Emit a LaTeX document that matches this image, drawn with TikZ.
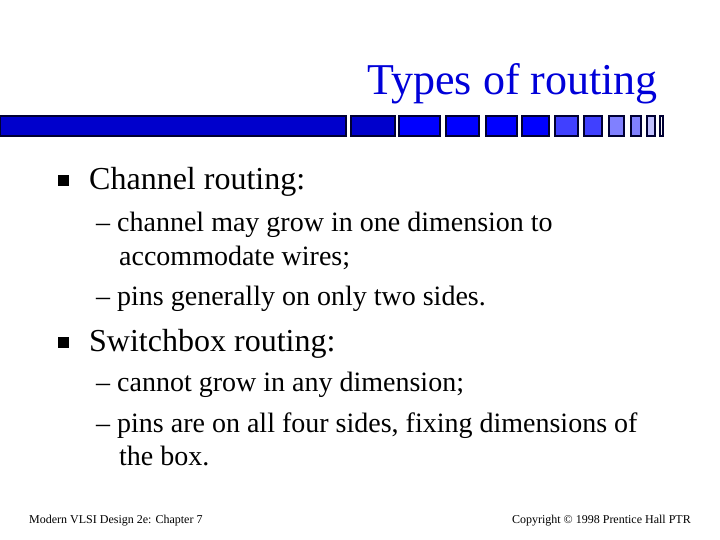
\documentclass[tikz,border=0pt]{standalone}
\usepackage{fontspec}
\setmainfont{Liberation Serif}
\begin{document}
\begin{tikzpicture}[x=1pt,y=-1pt,
  blk/.style={draw=black!80!blue,line width=1.3pt},
  bul/.style={fill=black,minimum size=11pt,inner sep=0pt},
  main/.style={anchor=base west,inner sep=0pt,font=\fontsize{32}{36}\selectfont},
  sub/.style={anchor=base west,inner sep=0pt,font=\fontsize{28}{33}\selectfont},
  foot/.style={anchor=base west,inner sep=0pt,font=\fontsize{12}{14}\selectfont}]
\useasboundingbox (0,0) rectangle (720,540);
\definecolor{dk}{RGB}{0,0,204}
\definecolor{md}{RGB}{64,64,255}
\definecolor{lt}{RGB}{128,128,255}
\definecolor{vl}{RGB}{192,192,255}
\node[anchor=base east,inner sep=0pt,font=\fontsize{44}{50}\selectfont,text=blue!85!black] (title) at (658,95) {Types of routing};
\filldraw[blk,fill=dk] (0,116) rectangle (346,136);
\filldraw[blk,fill=dk] (351,116) rectangle (395,136);
\foreach \a/\b in {399/440,446/479,486/517,522/549}{\filldraw[blk,fill=blue] (\a,116) rectangle (\b,136);}
\foreach \a/\b in {555/578,584/602}{\filldraw[blk,fill=md] (\a,116) rectangle (\b,136);}
\foreach \a/\b in {609/624,631/641}{\filldraw[blk,fill=lt] (\a,116) rectangle (\b,136);}
\filldraw[blk,fill=vl] (647,116) rectangle (655,136);
\filldraw[blk,fill=white] (660,116) rectangle (663,136);
\node[bul] (b1) at (63,181) {};
\node[main] (c1) at (89,190) {Channel routing:};
\node[sub] (s1) at (96,232) {– channel may grow in one dimension to};
\node[sub] (s1b) at (119,265) {accommodate wires;};
\node[sub] (s2) at (96,305) {– pins generally on only two sides.};
\node[bul] (b2) at (63,342) {};
\node[main] (c2) at (89,351) {Switchbox routing:};
\node[sub] (s3) at (96,391) {– cannot grow in any dimension;};
\node[sub] (s4) at (96,432) {– pins are on all four sides, fixing dimensions of};
\node[sub] (s4b) at (119,465) {the box.};
\node[foot] (f1) at (29,523) {Modern VLSI Design 2e: Chapter 7};
\node[foot,anchor=base east] (f2) at (691,523) {Copyright © 1998 Prentice Hall PTR};
\end{tikzpicture}
\end{document}
